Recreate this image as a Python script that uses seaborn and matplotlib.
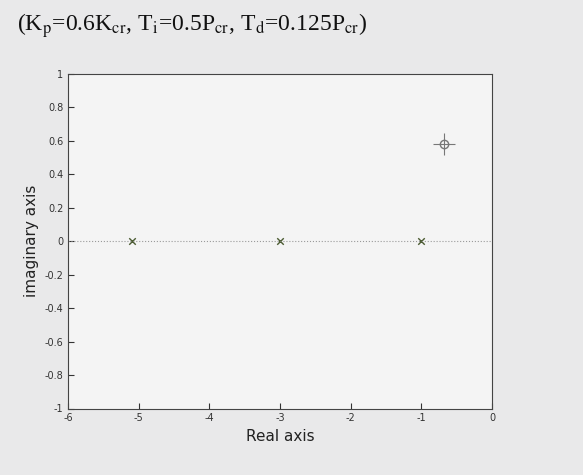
import matplotlib
matplotlib.use("Agg")
import matplotlib.pyplot as plt
import seaborn as sns

# poles (x marks) and the closed-loop point
pole_re = [-5.1, -3.0, -1.0]
pole_im = [0.0, 0.0, 0.0]
point_re = [-0.68]
point_im = [0.58]
xticks = [-6, -5, -4, -3, -2, -1, 0]
yticks = [-1, -0.8, -0.6, -0.4, -0.2, 0, 0.2, 0.4, 0.6, 0.8, 1]

sns.set_style("ticks")
plt.rcParams["mathtext.fontset"] = "stix"
fig = plt.figure(figsize=(5.83, 4.75), dpi=100, facecolor="#e9e9ea")
ax = fig.add_axes([0.117, 0.14, 0.727, 0.705], facecolor="#f4f4f4")

ax.axhline(0, color="#9a9a9a", lw=0.8, ls=":")
sns.scatterplot(x=pole_re, y=pole_im, marker="x", color="#4a5a30", s=22, linewidth=1, ax=ax)
ax.plot(point_re, point_im, marker="o", mfc="none", mec="#777777", ms=6, ls="none")
ax.plot(point_re, point_im, marker="+", color="#777777", ms=16, mew=0.8, ls="none")

ax.set_xlim(-6, 0)
ax.set_ylim(-1, 1)
ax.set_xticks(xticks)
ax.set_yticks(yticks)
ax.set_xticklabels([str(t) for t in xticks])
ax.set_yticklabels(["-1", "-0.8", "-0.6", "-0.4", "-0.2", "0", "0.2", "0.4", "0.6", "0.8", "1"])
ax.tick_params(labelsize=7, colors="#333333", direction="in", length=4)
for s in ax.spines.values():
    s.set_color("#444444")
    s.set_linewidth(0.8)
ax.set_xlabel("Real axis", fontsize=11, color="#222222")
ax.set_ylabel("imaginary axis", fontsize=11, color="#222222")

fig.text(0.03, 0.935, r"(K$_\mathrm{p}$=0.6K$_\mathrm{cr}$, T$_\mathrm{i}$=0.5P$_\mathrm{cr}$, T$_\mathrm{d}$=0.125P$_\mathrm{cr}$)",
         fontsize=17, family="Liberation Serif", color="#111111")

fig.savefig("out.png", dpi=100, facecolor=fig.get_facecolor())
